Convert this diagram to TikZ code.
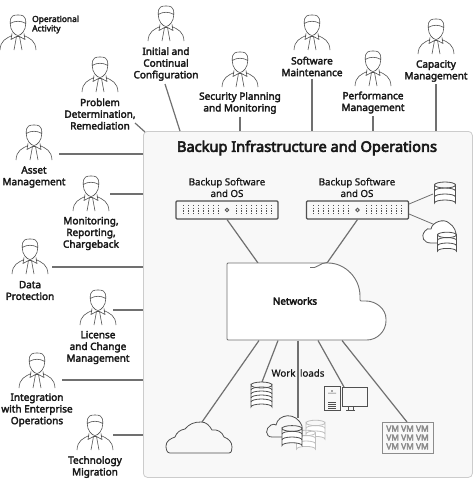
\documentclass[tikz,border=0pt]{standalone}
\usepackage{fontspec}
\setmainfont{Noto Sans}
\newfontfamily\softfont[FakeBold=1]{Noto Sans}
\newfontfamily\rolefont[FakeBold=3]{Noto Sans}
\newfontfamily\headfont[FakeBold=4]{Noto Sans}
\usepackage{tikz}
\usetikzlibrary{positioning,calc}
\definecolor{LineGray}{RGB}{112,112,112}
\definecolor{IconGray}{RGB}{80,80,80}
\definecolor{PanelGray}{RGB}{248,248,248}
\definecolor{TextDark}{RGB}{25,25,25}
\tikzset{
  panel/.style={rectangle, rounded corners=4pt, draw=gray!40, fill=PanelGray, line width=0.8pt,
    minimum width=329pt, minimum height=346pt},
  role/.style={align=center, font=\fontsize{10}{11.7}\selectfont\rolefont, text=TextDark, inner sep=0pt},
  soft/.style={align=center, font=\fontsize{9.7}{11.6}\selectfont\softfont, text=TextDark, inner sep=0pt},
  link/.style={draw=LineGray, line width=1.2pt},
  icon/.style={draw=IconGray, line width=0.8pt, fill=white},
  figure/.style={rectangle, minimum width=36pt, minimum height=35pt, inner sep=0pt},
  rack/.style={rectangle, rounded corners=1pt, draw=IconGray, line width=1.1pt, fill=PanelGray,
    minimum width=102pt, minimum height=18pt},
  man/.pic={
    \draw[IconGray, line width=0.6pt, line join=round]
      (-18,17.5) .. controls (-17.5,8) and (-12,6) .. (-6,3)
      (18,17.5) .. controls (17.5,8) and (12,6) .. (6,3)
      (-7.8,-9) .. controls (-8,-17.5) and (-4,-17.5) .. (0,-17.5) .. controls (4,-17.5) and (8,-17.5) .. (7.8,-9)
      .. controls (7.8,-2) and (3,3) .. (0,3) .. controls (-3,3) and (-7.8,-2) .. (-7.8,-9)
      (-7.8,-9) .. controls (-3,-12) and (3,-12) .. (7.8,-9)
      (-6,1) -- (-7,7) -- (-1.5,4) -- (-4,17.5)
      (6,1) -- (7,7) -- (1.5,4) -- (4,17.5)
      (-1.5,4) -- (1.5,4);
  },
  drum/.pic={
    \draw[icon] (-10.5,9) -- (-10.5,-9) arc[start angle=180, end angle=0, x radius=10.5, y radius=3]
      -- (10.5,9) arc[start angle=0, end angle=-180, x radius=10.5, y radius=3] -- cycle;
    \foreach \yy in {-9,-3,3} {
      \draw[icon, fill=none] (-10.5,\yy) arc[start angle=180, end angle=360, x radius=10.5, y radius=3];
    }
  },
  tag/.style={font=\fontsize{8.4}{8.9}\selectfont\headfont, text=gray!90, inner sep=0pt, align=center}
}
\begin{document}
\begin{tikzpicture}[x=1pt, y=-1pt]
  \useasboundingbox (0,0) rectangle (474,479);
  % frame
  \node[panel, anchor=north west] (ops) at (143,131) {};
  \node[font=\fontsize{14.6}{16}\selectfont\headfont, text=TextDark, inner sep=0pt] (title) at (307,148) {Backup Infrastructure and Operations};
  % people
  \foreach \who/\px/\py in {activity/18/15, initial/166/6, problem/100/57, security/240/52, maint/312/15,
      perf/373/51, capacity/436/19, asset/34/125, monitor/91/176, protect/30/239, license/98/290,
      integ/37/353, migrate/95/415} {
    \node[figure] (\who) at (\px,\py+17.5) {};
    \pic at (\who) {man};
  }
  \node[role, align=left, anchor=west, font=\fontsize{8.4}{9.4}\selectfont\rolefont] (activitytxt) at (32,24.5) {Operational\\Activity};
  \node[role] (initialtxt) at (166,64) {Initial and\\Continual\\Configuration};
  \node[role] (problemtxt) at (100,114) {Problem\\Determination,\\Remediation};
  \node[role] (securitytxt) at (240,103) {Security Planning\\and Monitoring};
  \node[role] (mainttxt) at (312,66.5) {Software\\Maintenance};
  \node[role] (perftxt) at (373,102.5) {Performance\\Management};
  \node[role] (capacitytxt) at (436,71) {Capacity\\Management};
  \node[role] (assettxt) at (34,177) {Asset\\Management};
  \node[role] (monitortxt) at (91,233.5) {Monitoring,\\Reporting,\\Chargeback};
  \node[role] (protecttxt) at (30,290.5) {Data\\Protection};
  \node[role] (licensetxt) at (98,347.5) {License\\and Change\\Management};
  \node[role] (integtxt) at (37,410) {Integration\\with Enterprise\\Operations};
  \node[role] (migratetxt) at (95,467) {Technology\\Migration};
  % links from the people to the frame
  \coordinate (problemend) at (135,123);
  \coordinate (problemin) at (145,132);
  \coordinate (initialend) at (165,84);
  \coordinate (initialin) at (180,131);
  \draw[link] (problemend) -- (problemin);
  \draw[link] (initialend) -- (initialin);
  \draw[link, shorten <=2.5pt] (securitytxt.south) -- (securitytxt.south |- ops.north);
  \draw[link, shorten <=2.5pt] (mainttxt.south) -- (mainttxt.south |- ops.north);
  \draw[link, shorten <=2.5pt] (perftxt.south) -- (perftxt.south |- ops.north);
  \draw[link, shorten <=2.5pt] (capacitytxt.south) -- (capacitytxt.south |- ops.north);
  \foreach \who/\px/\py in {asset/59/154, monitor/110/194, protect/52/267, license/113/310, integ/62/380, migrate/113/435} {
    \coordinate (\who end) at (\px,\py);
    \draw[link] (\who end) -- (\who end -| ops.west);
  }
  % backup servers
  \node[soft] (softa) at (227,187.5) {Backup Software\\and OS};
  \node[soft] (softb) at (357,187.5) {Backup Software\\and OS};
  \node[rack] (racka) at (227,210) {};
  \node[rack] (rackb) at (357.5,210) {};
  \foreach \r in {racka,rackb} {
    \foreach \dx in {-44,-39,...,-9,9,14,...,44} {
      \draw[IconGray, line width=1pt, dash pattern=on 1.3pt off 1.4pt] ($(\r)+(\dx,-5)$) -- ($(\r)+(\dx,5.5)$);
    }
    \draw[IconGray, line width=0.9pt] (\r) circle[radius=1.8];
  }
  % storage beside the second server
  \coordinate (drumtop) at (433,194);
  \coordinate (drumlow) at (440,227);
  \draw[link, line width=0.8pt] ($(rackb.east)+(0,-6)$) -- (drumtop);
  \draw[link, line width=0.8pt] ($(rackb.east)+(0,4)$) -- (drumlow);
  \pic at (445,194) {drum};
  \draw[icon] (431,243) .. controls (424,243) and (420,237) .. (425,231) .. controls (426,229) and (429,228) .. (431,229)
    .. controls (432,222) and (444,218) .. (449,223) .. controls (454,226) and (457,232) .. (456,238) -- (456,243) -- cycle;
  \pic[scale=0.9] at (447,243) {drum};
  % networks cloud
  \draw[link] (racka.south) -- (258,263);
  \draw[link] (rackb.south) -- (327,263);
  \path[icon, draw=LineGray, line width=0.9pt, rounded corners=1pt, fill=white]
    (227,263) -- (327,263) to[out=0, in=90] (360,297) -- (360,301) -- (365,301)
    to[out=0, in=90] (386,320) to[out=-90, in=0] (366,340) -- (227,340) -- cycle;
  \draw[draw=LineGray, line width=0.9pt] (310,267.5) to[out=-15, in=180] (327,262.5);
  \node[font=\fontsize{9.8}{11}\selectfont\headfont, text=TextDark, inner sep=0pt] (nets) at (295,301) {Networks};
  % workloads
  \node[soft] (loads) at (298,373) {Work\hspace{2pt} loads};
  \coordinate (netbottom) at (298,340.5);
  \coordinate (cloudtop) at (202,422);
  \coordinate (drumhead) at (262,382);
  \coordinate (pairtop) at (298,418);
  \coordinate (screentop) at (344,387);
  \coordinate (vmtop) at (407,422);
  \draw[link] (259,340.5) -- (cloudtop);
  \draw[link] (278,340.5) -- (drumhead);
  \draw[link] (netbottom) -- (pairtop);
  \draw[link] (318,340.5) -- (screentop);
  \draw[link] (342,340.5) -- (vmtop);
  % big cloud
  \draw[icon, fill=PanelGray] (170,453) to[out=180, in=-90] (166,446) to[out=90, in=200] (175,437)
    to[out=70, in=190] (185,429) to[out=50, in=180] (201,422) to[out=0, in=120] (212,430)
    to[out=10, in=110] (224,437) to[out=-20, in=90] (232,447) to[out=-90, in=0] (229,453) -- cycle;
  % drum stack
  \begin{scope}[shift={(261.5,396)}]
    \draw[icon] (-10.5,11) -- (-10.5,-11) arc[start angle=180, end angle=0, x radius=10.5, y radius=3]
      -- (10.5,11) arc[start angle=0, end angle=-180, x radius=10.5, y radius=3] -- cycle;
    \foreach \yy in {-11,-6,-2,2,6} {
      \draw[icon, fill=none] (-10.5,\yy) arc[start angle=180, end angle=360, x radius=10.5, y radius=3];
    }
  \end{scope}
  % cloud with drums
  \begin{scope}[icon/.append style={draw=gray!50}]
    \pic[scale=0.9] at (315.5,431) {drum};
    \pic[scale=0.9] at (306,441) {drum};
  \end{scope}
  \draw[icon, fill=PanelGray] (272,437) .. controls (265,437) and (265,428) .. (271,425) .. controls (273,424) and (275,424) .. (276,425)
    .. controls (278,414) and (296,411) .. (302,426) -- (302,437) -- cycle;
  \pic[scale=0.95] at (292,437) {drum};
  % desktop
  \node[rectangle, draw=IconGray, fill=PanelGray, line width=0.7pt, minimum width=16pt, minimum height=24pt, inner sep=0pt] (tower) at (332,398) {};
  \node[rectangle, draw=IconGray, fill=PanelGray, line width=0.7pt, minimum width=25pt, minimum height=19pt, inner sep=0pt] (screen) at (354.5,396.5) {};
  \draw[IconGray, line width=0.5pt] (tower.center) ++(0,-7) circle[radius=0.5] ++(-4,2) -- ++(8,0);
  \foreach \yy in {4,6,8,10} {
    \draw[IconGray, line width=0.5pt] ($(tower.center)+(-4,\yy)$) -- ++(8,0);
  }
  \draw[IconGray, line width=0.5pt] (348,406) -- (348,410) (353,406) -- (353,410) (346,410) -- (355,410);
  % virtual machines
  \node[rectangle, draw=gray!90, line width=1pt, fill=PanelGray, minimum width=51pt, minimum height=31pt, inner sep=0pt] (vmbox) at (407.5,437.5) {};
  \node[tag] (vmtxt) at (vmbox) {VM VM VM\\VM VM VM\\VM VM VM};
\end{tikzpicture}
\end{document}
